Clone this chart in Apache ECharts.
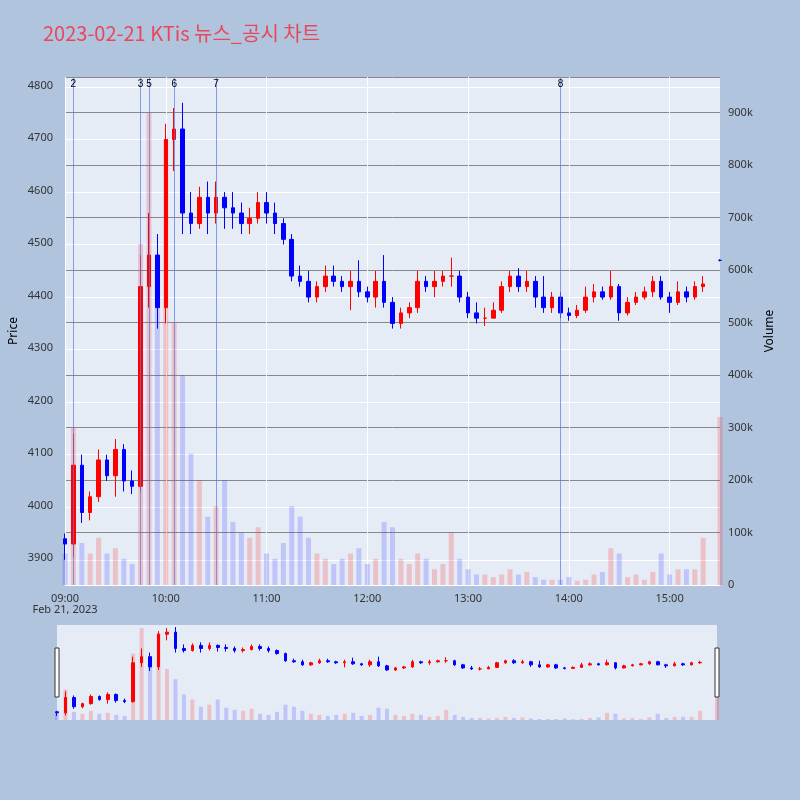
<!DOCTYPE html>
<html>
<head>
<meta charset="utf-8">
<script src="https://cdn.jsdelivr.net/npm/echarts@6/dist/echarts.min.js"></script>
<style>html,body{margin:0;background:#b0c4de}#main{width:800px;height:800px}</style>
</head>
<body>
<div id="main"></div>
<script>
// 5-minute slots, 09:00 .. 15:30
var times = [];
for (var m = 0; m <= 390; m += 5) {
  var h = 9 + Math.floor(m / 60), mm = m % 60;
  times.push((h < 10 ? '0' : '') + h + ':' + (mm < 10 ? '0' : '') + mm);
}
// [open, close, low, high]
var ohlc = [
  [3940,3930,3900,3950],[3930,4080,3905,4140],[4080,3990,3970,4100],[3990,4020,3975,4030],
  [4020,4090,4010,4110],[4090,4060,4050,4100],[4060,4110,4020,4130],[4110,4050,4030,4120],
  [4050,4040,4025,4070],[4040,4420,4030,4480],[4420,4480,4380,4560],[4480,4380,4340,4520],
  [4380,4700,4350,4730],[4700,4720,4640,4760],[4720,4560,4520,4770],[4560,4540,4520,4600],
  [4540,4590,4530,4610],[4590,4560,4520,4620],[4560,4590,4540,4620],[4590,4570,4530,4600],
  [4570,4560,4530,4600],[4560,4540,4520,4580],[4540,4550,4520,4570],[4550,4580,4540,4600],
  [4580,4560,4540,4600],[4560,4540,4520,4580],[4540,4510,4500,4550],[4510,4440,4430,4520],
  [4440,4430,4420,4460],[4430,4400,4390,4450],[4400,4420,4390,4430],[4420,4440,4410,4460],
  [4440,4430,4420,4460],[4430,4420,4410,4440],[4420,4430,4375,4450],[4430,4410,4400,4470],
  [4410,4400,4390,4420],[4400,4430,4380,4450],[4430,4390,4380,4480],[4390,4350,4340,4400],
  [4350,4370,4340,4380],[4370,4380,4360,4390],[4380,4430,4370,4450],[4430,4420,4410,4440],
  [4420,4430,4400,4450],[4430,4440,4420,4450],[4440,4440,4420,4475],[4440,4400,4390,4450],
  [4400,4370,4360,4410],[4370,4360,4350,4390],[4360,4360,4345,4380],[4360,4375,4360,4390],
  [4375,4420,4370,4430],[4420,4440,4410,4450],[4440,4420,4410,4455],[4420,4430,4410,4450],
  [4430,4400,4380,4440],[4400,4380,4370,4440],[4380,4400,4370,4410],[4400,4370,4360,4410],
  [4370,4365,4355,4380],[4365,4375,4360,4385],[4375,4400,4370,4420],[4400,4410,4390,4425],
  [4410,4400,4395,4420],[4400,4420,4395,4450],[4420,4370,4355,4425],[4370,4390,4365,4400],
  [4390,4400,4385,4410],[4400,4410,4395,4420],[4410,4430,4400,4440],[4430,4400,4395,4440],
  [4400,4390,4370,4410],[4390,4410,4385,4430],[4410,4400,4390,4420],[4400,4420,4395,4430],
  [4420,4425,4410,4440],'-',[4470,4470,4468,4472]
];
var volumes = [
  60,300,80,60,90,60,70,50,40,650,900,600,850,500,400,250,200,130,150,200,120,100,90,110,
  60,50,80,150,130,90,60,50,40,50,60,70,40,50,120,110,50,40,60,50,30,40,100,50,30,20,20,15,
  20,30,20,25,15,10,10,10,15,8,10,20,25,70,60,15,20,10,25,60,20,30,30,30,90,0,320
];
var newsTimes = ['09:05', '09:45', '09:50', '10:05', '10:30', '13:55'];
var newsLabels = ['2', '3', '5', '6', '7', '8'];
var priceGrid = [3900,4000,4100,4200,4300,4400,4500,4600,4700,4800];

var volData = volumes.map(function (v, i) {
  var c = ohlc[i], up = c !== '-' && c[1] >= c[0];
  return { value: v * 1000, itemStyle: { color: up ? 'rgba(255,40,40,0.22)' : 'rgba(60,60,255,0.22)' } };
});

var myChart = echarts.init(document.getElementById('main'));
var font = 'Noto Sans, sans-serif';
var onHour = function (i, v) { return v.slice(3) === '00'; };
var option = {
  backgroundColor: '#b0c4de',
  animation: false,
  title: {
    text: '2023-02-21 KTis 뉴스_공시 차트', left: 38, top: 18,
    textStyle: { color: '#e8475a', fontSize: 20, fontWeight: 'normal', fontFamily: 'Noto Sans CJK KR' }
  },
  grid: [
    { left: 57, right: 80, top: 77, height: 508, show: true, backgroundColor: '#e5ecf6', borderWidth: 0 },
    { left: 57, right: 83, top: 625, height: 95, show: true, backgroundColor: '#e5ecf6', borderWidth: 0 }
  ],
  xAxis: [
    {
      type: 'category', data: times, gridIndex: 0, boundaryGap: false,
      axisLine: { lineStyle: { color: '#fff' } }, axisTick: { show: false },
      axisLabel: {
        color: '#333', fontSize: 11, fontFamily: font, showMinLabel: true, interval: onHour,
        formatter: function (v) { return v === '09:00' ? '09:00\nFeb 21, 2023' : v; }
      },
      splitLine: { show: true, interval: onHour, lineStyle: { color: '#fff' } }
    },
    { type: 'category', data: times, gridIndex: 1, boundaryGap: false, show: false }
  ],
  yAxis: [
    {
      type: 'value', min: 3852, max: 4819, gridIndex: 0, interval: 1,
      name: 'Price', nameLocation: 'middle', nameGap: 45,
      nameTextStyle: { color: '#000', fontSize: 12, fontFamily: font },
      axisLabel: { show: false }, splitLine: { show: false }
    },
    {
      type: 'value', min: 0, max: 968000, interval: 100000, gridIndex: 0, position: 'right',
      name: 'Volume', nameLocation: 'middle', nameGap: 36,
      nameTextStyle: { color: '#000', fontSize: 12, fontFamily: font },
      axisLabel: { color: '#333', fontSize: 11, fontFamily: font, showMaxLabel: false,
        formatter: function (v) { return v === 0 ? '0' : (v / 1000) + 'k'; } },
      splitLine: { show: true, lineStyle: { color: '#888', width: 1 } }
    },
    { type: 'value', min: 3860, max: 4790, gridIndex: 1, show: false },
    { type: 'value', min: 0, max: 930000, gridIndex: 1, show: false }
  ],
  graphic: [
    { type: 'rect', shape: { x: 55, y: 648, width: 4, height: 49 }, style: { fill: '#fff', stroke: '#333', lineWidth: 1 }, z: 100 },
    { type: 'rect', shape: { x: 715, y: 648, width: 4, height: 49 }, style: { fill: '#fff', stroke: '#333', lineWidth: 1 }, z: 100 }
  ],
  series: [
    {
      type: 'bar', xAxisIndex: 0, yAxisIndex: 1, data: volData, barWidth: 5, z: 1,
      markLine: {
        silent: true, symbol: 'none', animation: false,
        lineStyle: { color: 'rgba(90,120,230,0.7)', type: 'solid', width: 1 },
        label: { show: true, position: 'end', distance: -12, color: '#000', fontSize: 10, formatter: '{b}' },
        data: newsTimes.map(function (t, i) { return { xAxis: t, name: newsLabels[i] }; })
      }
    },
    {
      type: 'candlestick', xAxisIndex: 0, yAxisIndex: 0, data: ohlc, barWidth: 4, z: 3,
      itemStyle: { color: '#ff0000', color0: '#0000ff', borderColor: '#ff0000', borderColor0: '#0000ff' },
      markLine: {
        silent: true, symbol: 'none', label: { show: false },
        lineStyle: { color: '#fff', type: 'solid', width: 1 }, z: 0,
        data: priceGrid.map(function (p) { return { yAxis: p }; })
      }
    },
    { type: 'bar', xAxisIndex: 1, yAxisIndex: 3, data: volData, barWidth: 4 },
    {
      type: 'candlestick', xAxisIndex: 1, yAxisIndex: 2, data: ohlc, barWidth: 3,
      itemStyle: { color: '#ff0000', color0: '#0000ff', borderColor: '#ff0000', borderColor0: '#0000ff' }
    }
  ]
};
myChart.setOption(option);

// price tick labels drawn as text on the left axis
var labels = priceGrid.map(function (p) {
  var y = myChart.convertToPixel({ yAxisIndex: 0 }, p);
  return { type: 'text', right: 800 - 53, top: y - 7, style: { text: String(p), fill: '#333', fontSize: 11, fontFamily: font, textAlign: 'right' } };
});
myChart.setOption({ graphic: option.graphic.concat(labels) });
</script>
</body>
</html>
